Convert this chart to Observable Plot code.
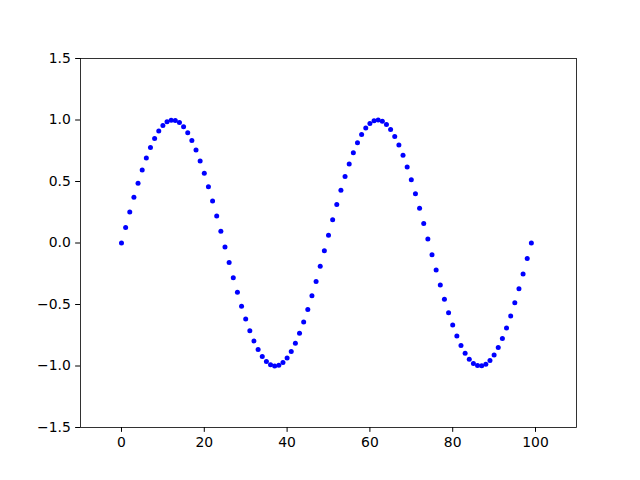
<!DOCTYPE html>
<html>
<head>
<meta charset="utf-8">
<script src="https://cdn.jsdelivr.net/npm/d3@7"></script>
<script src="https://cdn.jsdelivr.net/npm/@observablehq/plot@0.6"></script>
<style>
  html, body { margin: 0; padding: 0; background: #fff; }
  #chart svg { display: block; }
</style>
</head>
<body>
<div id="chart"></div>
<script>
const xValues = d3.range(0, 100);
const yValues = [
  0, 0.1266, 0.2511, 0.3717, 0.4862, 0.5929, 0.6901, 0.7761, 0.8497, 0.9096,
  0.9549, 0.9848, 0.9989, 0.9969, 0.9788, 0.9450, 0.8960, 0.8326, 0.7557, 0.6668,
  0.5671, 0.4582, 0.3420, 0.2203, 0.0951, -0.0317, -0.1580, -0.2817, -0.4009, -0.5137,
  -0.6182, -0.7127, -0.7958, -0.8660, -0.9222, -0.9639, -0.9898, -0.9999, -0.9938, -0.9718,
  -0.9342, -0.8815, -0.8146, -0.7346, -0.6428, -0.5406, -0.4298, -0.3120, -0.1893, -0.0634,
  0.0634, 0.1893, 0.3120, 0.4298, 0.5406, 0.6428, 0.7346, 0.8146, 0.8815, 0.9342,
  0.9718, 0.9938, 0.9999, 0.9898, 0.9639, 0.9222, 0.8660, 0.7958, 0.7127, 0.6182,
  0.5137, 0.4009, 0.2817, 0.1580, 0.0317, -0.0951, -0.2203, -0.3420, -0.4582, -0.5671,
  -0.6668, -0.7557, -0.8326, -0.8960, -0.9450, -0.9788, -0.9969, -0.9989, -0.9848, -0.9549,
  -0.9096, -0.8497, -0.7761, -0.6901, -0.5929, -0.4862, -0.3717, -0.2511, -0.1266, 0
];
const xTicks = [0, 20, 40, 60, 80, 100];
const yTicks = [-1.5, -1.0, -0.5, 0.0, 0.5, 1.0, 1.5];

const data = xValues.map((x, i) => ({x, y: yValues[i]}));
const fmtY = d => d.toFixed(1).replace("-", "\u2212");

const chart = Plot.plot({
  width: 640,
  height: 480,
  marginLeft: 80,
  marginRight: 64,
  marginTop: 58,
  marginBottom: 53,
  style: {fontFamily: "DejaVu Sans", fontSize: "13.9px", color: "black", background: "white"},
  x: {domain: [-9.9, 109.9], label: null},
  y: {domain: [-1.5, 1.5], label: null},
  marks: [
    Plot.frame({stroke: "black", strokeWidth: 0.8}),
    Plot.axisX({ticks: xTicks, tickSize: 4.86, tickPadding: 4.86, tickFormat: d => String(d), label: null, fontSize: "13.9px"}),
    Plot.axisY({ticks: yTicks, tickSize: 4.86, tickPadding: 4.86, tickFormat: fmtY, label: null, fontSize: "13.9px"}),
    Plot.dot(data, {x: "x", y: "y", r: 2.5, fill: "blue", stroke: "none"})
  ]
});
document.getElementById("chart").appendChild(chart);
</script>
</body>
</html>
